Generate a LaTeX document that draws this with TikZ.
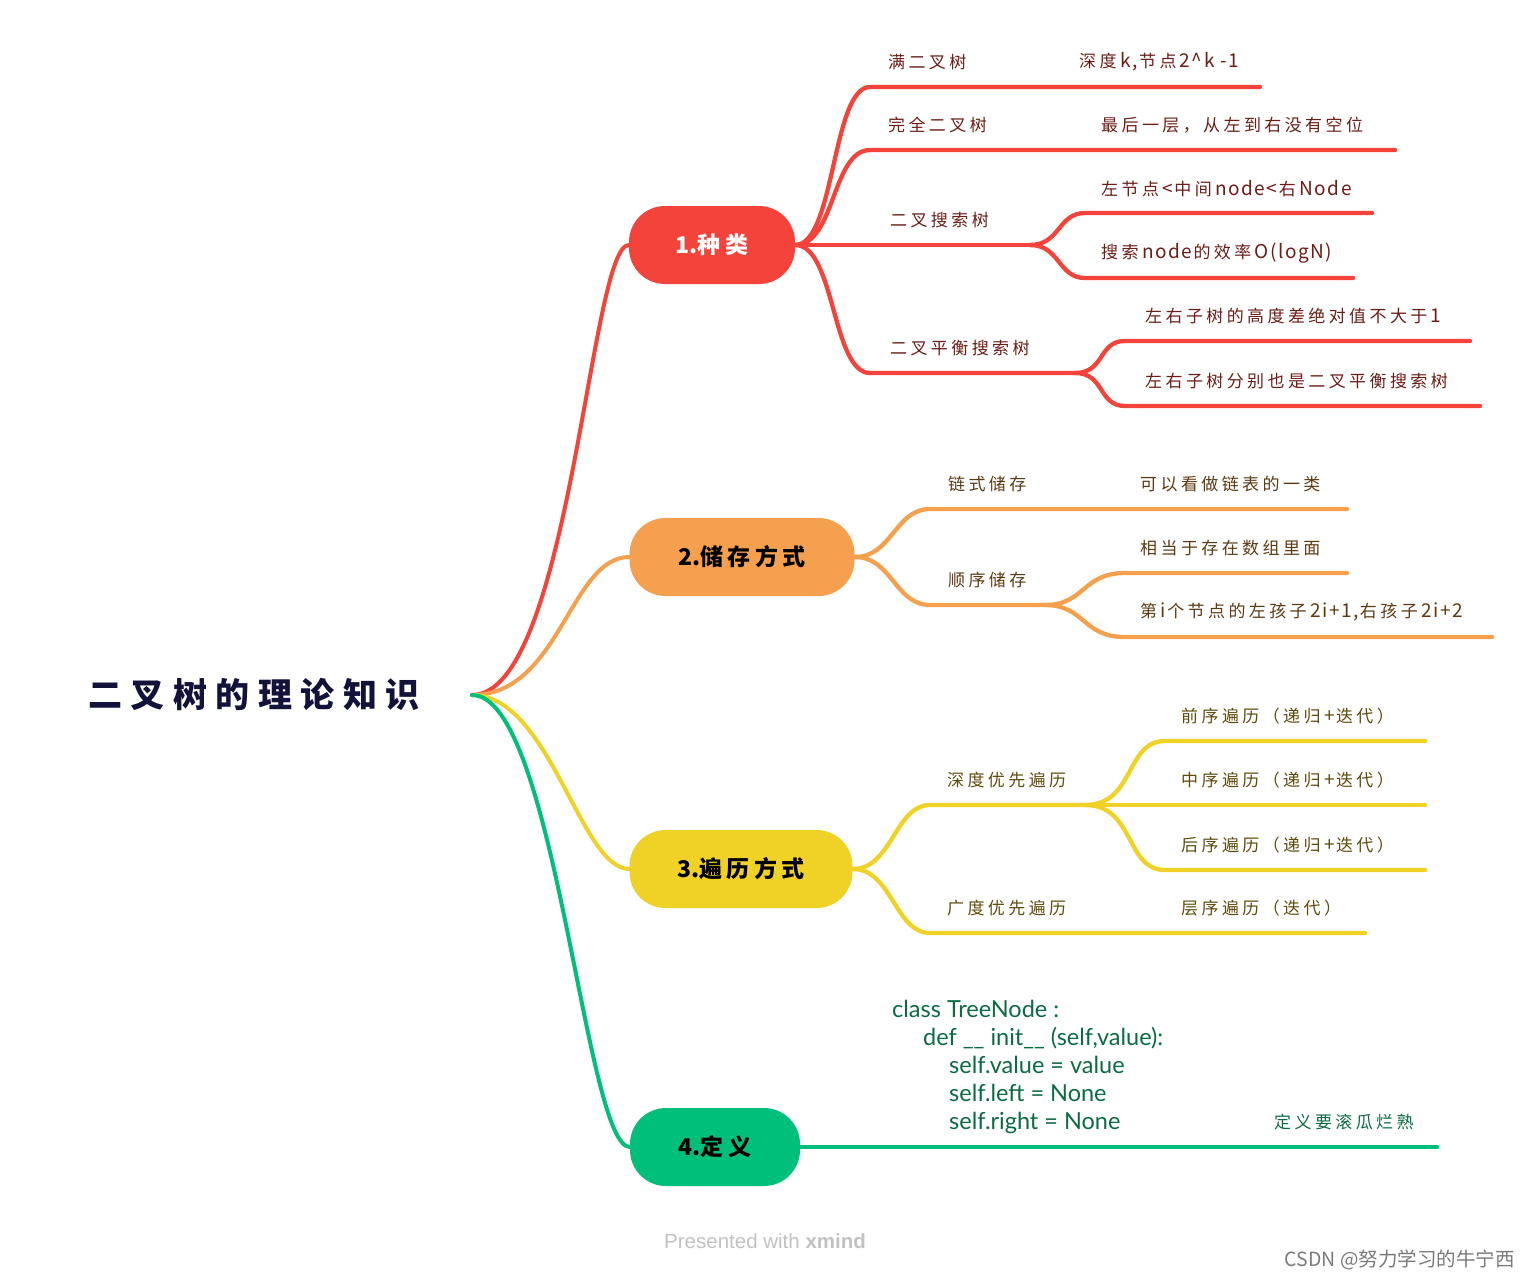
\documentclass[tikz,border=0pt]{standalone}
\usepackage{fontspec}
\setmainfont{Noto Sans CJK SC}
\newfontfamily\cjk[LetterSpace=20]{Noto Sans CJK SC}
\newfontfamily\cjkwide[LetterSpace=25]{Noto Sans CJK SC}
\newfontfamily\cjkplain{Noto Sans CJK SC}
\newfontfamily\latf[LetterSpace=8,Scale=1.12]{Noto Sans CJK SC}
\newfontfamily\codefont{Lato}
\newfontfamily\footfont{Liberation Sans}
\newcommand\lt[1]{\kern3.4pt{\latf #1}\kern1.5pt}
\definecolor{redc}{HTML}{F4433B}
\definecolor{orangec}{HTML}{F4A04E}
\definecolor{yellowc}{HTML}{F0D126}
\definecolor{greenc}{HTML}{00BF7A}
\definecolor{redt}{HTML}{6B1D16}
\definecolor{oranget}{HTML}{5E3A12}
\definecolor{yellowt}{HTML}{5E4C0C}
\definecolor{greent}{HTML}{0B6B43}
\definecolor{rootc}{HTML}{12123A}
\definecolor{footc}{HTML}{C2C2C2}
\definecolor{csdnc}{HTML}{7A7A7A}
\begin{document}
\begin{tikzpicture}[x=1pt,y=-1pt,
  br/.style={line width=4.3pt, line cap=round, line join=round},
  rt/.style={line width=4pt, line cap=round},
  topic/.style={rounded corners=36pt, minimum height=78pt, inner sep=0pt,
    font=\cjk\bfseries\fontsize{23}{26}\selectfont},
  sub/.style={anchor=west, inner sep=0pt, font=\cjk\fontsize{17}{20}\selectfont},
]
\useasboundingbox (0,0) rectangle (1530,1279);
\fill[white] (0,0) rectangle (1530,1279);

% root
\node[anchor=west, inner sep=0pt, text=rootc,
  font=\cjkwide\bfseries\fontsize{34}{40}\selectfont] (root) at (88,695) {二叉树的理论知识};
\coordinate (o) at (472,695);

% main topics
\node[topic, fill=redc, text=white, minimum width=166pt] (n1) at (712,245) {{\cjkplain 1.}种类};
\node[topic, fill=orangec, text=black, minimum width=225pt] (n2) at (742,557) {{\cjkplain 2.}储存方式};
\node[topic, fill=yellowc, text=black, minimum width=223pt] (n3) at (741,869) {{\cjkplain 3.}遍历方式};
\node[topic, fill=greenc, text=black, minimum width=170pt] (n4) at (715,1147) {{\cjkplain 4.}定义};

\draw[rt,redc] (o) .. controls (570,695) and (590,245) .. (n1.west);
\draw[rt,orangec] (o) .. controls (560,695) and (570,557) .. (n2.west);
\draw[rt,yellowc] (o) .. controls (550,695) and (580,869) .. (n3.west);
\draw[rt,greenc] (o) .. controls (555,695) and (585,1147) .. (n4.west);

% ---------- red branch ----------
\coordinate (a1) at (870,87);  \coordinate (a1e) at (1065,87);  \coordinate (a1l) at (1260,87);
\coordinate (a2) at (870,150); \coordinate (a2e) at (1085,150); \coordinate (a2l) at (1395,150);
\coordinate (a3) at (870,245); \coordinate (a3e) at (1030,245);
\coordinate (a3u) at (1085,213); \coordinate (a3ul) at (1372,213);
\coordinate (a3d) at (1085,278); \coordinate (a3dl) at (1353,278);
\coordinate (a4) at (870,373); \coordinate (a4e) at (1075,373);
\coordinate (a4u) at (1125,341); \coordinate (a4ul) at (1470,341);
\coordinate (a4d) at (1125,406); \coordinate (a4dl) at (1480,406);

\draw[br,redc] (n1.east) .. controls (835,245) and (832,87) .. (a1) -- (a1e) -- (a1l);
\draw[br,redc] (n1.east) .. controls (835,245) and (832,150) .. (a2) -- (a2e) -- (a2l);
\draw[br,redc] (n1.east) -- (a3) -- (a3e);
\draw[br,redc] (a3e) .. controls (1060,245) and (1058,213) .. (a3u) -- (a3ul);
\draw[br,redc] (a3e) .. controls (1060,245) and (1058,278) .. (a3d) -- (a3dl);
\draw[br,redc] (n1.east) .. controls (835,245) and (832,373) .. (a4) -- (a4e);
\draw[br,redc] (a4e) .. controls (1105,373) and (1098,341) .. (a4u) -- (a4ul);
\draw[br,redc] (a4e) .. controls (1105,373) and (1098,406) .. (a4d) -- (a4dl);

\node[sub,text=redt] (t1) at (888,62) {满二叉树};
\node[sub,text=redt] (t1l) at (1079,62) {深度\lt{k,}节点\lt{2\textasciicircum k -1}};
\node[sub,text=redt] (t2) at (888,125) {完全二叉树};
\node[sub,text=redt] (t2l) at (1101,125) {最后一层，从左到右没有空位};
\node[sub,text=redt] (t3) at (890,220) {二叉搜索树};
\node[sub,text=redt] (t3u) at (1101,189) {左节点\lt{<}中间\lt{node<}右\lt{Node}};
\node[sub,text=redt] (t3d) at (1101,253) {搜索\lt{node}的效率\lt{O(logN)}};
\node[sub,text=redt] (t4) at (890,348) {二叉平衡搜索树};
\node[sub,text=redt] (t4u) at (1145,316) {左右子树的高度差绝对值不大于\lt{1}};
\node[sub,text=redt] (t4d) at (1145,381) {左右子树分别也是二叉平衡搜索树};

% ---------- orange branch ----------
\coordinate (b1) at (930,509); \coordinate (b1e) at (1125,509); \coordinate (b1l) at (1347,509);
\coordinate (b2) at (930,605); \coordinate (b2e) at (1045,605);
\coordinate (b2u) at (1125,573); \coordinate (b2ul) at (1347,573);
\coordinate (b2d) at (1125,637); \coordinate (b2dl) at (1492,637);

\draw[br,orangec] (n2.east) .. controls (892,557) and (895,509) .. (b1) -- (b1e) -- (b1l);
\draw[br,orangec] (n2.east) .. controls (892,557) and (895,605) .. (b2) -- (b2e);
\draw[br,orangec] (b2e) .. controls (1085,605) and (1082,573) .. (b2u) -- (b2ul);
\draw[br,orangec] (b2e) .. controls (1085,605) and (1082,637) .. (b2d) -- (b2dl);

\node[sub,text=oranget] (u1) at (948,484) {链式储存};
\node[sub,text=oranget] (u1l) at (1140,484) {可以看做链表的一类};
\node[sub,text=oranget] (u2) at (948,580) {顺序储存};
\node[sub,text=oranget] (u2u) at (1140,548) {相当于存在数组里面};
\node[sub,text=oranget] (u2d) at (1140,612) {第\lt{i}个节点的左孩子\lt{2i+1,}右孩子\lt{2i+2}};

% ---------- yellow branch ----------
\coordinate (c1) at (930,805); \coordinate (c1e) at (1085,805);
\coordinate (c1u) at (1165,741); \coordinate (c1ul) at (1425,741);
\coordinate (c1m) at (1165,805); \coordinate (c1ml) at (1425,805);
\coordinate (c1d) at (1165,870); \coordinate (c1dl) at (1425,870);
\coordinate (c2) at (930,933); \coordinate (c2e) at (1085,933); \coordinate (c2l) at (1365,933);

\draw[br,yellowc] (n3.east) .. controls (892,869) and (895,805) .. (c1) -- (c1e);
\draw[br,yellowc] (c1e) .. controls (1135,805) and (1125,741) .. (c1u) -- (c1ul);
\draw[br,yellowc] (c1e) -- (c1m) -- (c1ml);
\draw[br,yellowc] (c1e) .. controls (1135,805) and (1125,870) .. (c1d) -- (c1dl);
\draw[br,yellowc] (n3.east) .. controls (892,869) and (895,933) .. (c2) -- (c2e) -- (c2l);

\node[sub,text=yellowt] (v1) at (947,780) {深度优先遍历};
\node[sub,text=yellowt] (v1u) at (1181,716) {前序遍历（递归\lt{+}迭代）};
\node[sub,text=yellowt] (v1m) at (1181,780) {中序遍历（递归\lt{+}迭代）};
\node[sub,text=yellowt] (v1d) at (1181,845) {后序遍历（递归\lt{+}迭代）};
\node[sub,text=yellowt] (v2) at (947,908) {广度优先遍历};
\node[sub,text=yellowt] (v2l) at (1181,908) {层序遍历（迭代）};

% ---------- green branch ----------
\coordinate (d1) at (1180,1147); \coordinate (d1l) at (1437,1147);
\draw[br,greenc] (n4.east) -- (d1) -- (d1l);

\node[anchor=north west, inner sep=0pt, text=greent, align=left,
  font=\codefont\fontsize{23.5}{28}\selectfont] (code) at (892,1000)
  {class TreeNode :\\
   \hspace*{31pt}def \_\_ init\_\_ (self,value):\\
   \hspace*{57pt}self.value = value\\
   \hspace*{57pt}self.left = None\\
   \hspace*{57pt}self.right = None};
\node[sub,text=greent] (w1l) at (1274,1122) {定义要滚瓜烂熟};

% footer
\node[anchor=west, inner sep=0pt, text=footc, font=\footfont\fontsize{20.5}{24}\selectfont]
  (pres) at (664,1241) {Presented with \textbf{xmind}};
\node[anchor=east, inner sep=0pt, text=csdnc, font=\cjkplain\fontsize{19.5}{22}\selectfont]
  (csdn) at (1515,1260) {CSDN @努力学习的牛宁西};
\end{tikzpicture}
\end{document}
